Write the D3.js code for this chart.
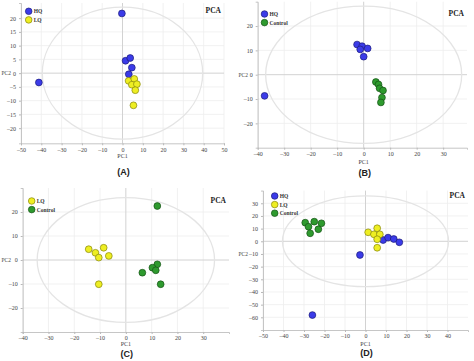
<!DOCTYPE html>
<html>
<head>
  <title>PCA score plots</title>
  <style>
    body { margin: 0; background: #fff; }
    svg { display: block; }
    .tick text { font-family: 'Liberation Serif', serif; font-size: 6px; fill: #444; }
  </style>
</head>
<body>
  <div id="chart-container"></div>
  <script src="https://d3js.org/d3.v7.min.js"></script>
  <script>
    // score values: [PC1, PC2]
    const scoresA_HQ = [[-0.3, 21.7], [1.5, 4.5], [3.8, 5.5], [4.6, 2.0], [3.1, -0.4], [-41.2, -3.4]];
    const scoresA_LQ = [[3.0, -2.8], [5.8, -2.1], [4.6, -4.2], [7.1, -4.0], [6.3, -6.2], [5.4, -11.7]];
    const scoresB_HQ = [[-2.5, 12.4], [-0.6, 11.7], [1.5, 10.8], [-1.3, 10.4], [0, 7.4], [-37.4, -8.7]];
    const scoresB_Control = [[4.6, -3.0], [5.6, -4.0], [6.0, -5.6], [7.3, -6.5], [6.9, -9.4], [6.5, -11.4]];
    const scoresC_LQ = [[-14.4, 4.5], [-11.8, 3.0], [-8.6, 5.1], [-10.5, 1.0], [-6.6, 1.7], [-10.5, -10.1]];
    const scoresC_Control = [[12.2, 22.5], [12.2, -1.8], [10.3, -3.2], [11.6, -4.3], [6.4, -5.3], [13.5, -10.1]];
    const scoresD_HQ = [[-2.7, -10.8], [-25.9, -58.2], [8.6, 1.0], [11, 2.9], [13.8, 1.8], [16.5, -0.8]];
    const scoresD_LQ = [[1.3, 7.1], [4.1, 5.5], [5.7, 10.3], [7, 5.5], [5.7, 1.6], [5.7, -5.1]];
    const scoresD_Control = [[-29.4, 14.7], [-27.8, 11.5], [-25, 15.5], [-21.5, 14.2], [-23, 9.5], [-27, 6.3]];

    const xTicksA = d3.range(-50, 51, 10);
    const yTicksA = d3.range(-20, 21, 5);
    const xTicksB = d3.range(-40, 31, 10);
    const yTicksB = d3.range(-20, 21, 10);
    const xTicksC = d3.range(-40, 31, 10);
    const yTicksC = d3.range(-20, 21, 10);
    const xTicksD = d3.range(-50, 41, 10);
    const yTicksD = d3.range(-60, 31, 10);

    // Hotelling ellipse half-axes (PC1, PC2)
    const ellipseA = [39.5, 24];
    const ellipseB = [37, 28.2];
    const ellipseC = [34.4, 26];
    const ellipseD = [40.5, 35.8];

    const groupColors = {
      HQ: { fill: '#3b3be8', stroke: '#1c1c7a' },
      LQ: { fill: '#eeee22', stroke: '#85850f' },
      Control: { fill: '#2e9a2e', stroke: '#155215' }
    };

    const panels = [
      { label: '(A)', ox: 0, oy: 0, xDom: [-50, 50], xR: [21, 224], yDom: [-25.5, 25.5], yR: [143.3, 3],
        xTicks: xTicksA, yTicks: yTicksA, ell: ellipseA, legend: [28.7, 11.3], pc2y: 73, pc1y: 158, capY: 175,
        series: [['HQ', scoresA_HQ], ['LQ', scoresA_LQ]] },
      { label: '(B)', ox: 237, oy: 0, xDom: [-40, 39], xR: [20.7, 230], yDom: [-30, 30], yR: [147.7, 1.7],
        xTicks: xTicksB, yTicks: yTicksB, ell: ellipseB, legend: [27.5, 14], pc2y: 75, pc1y: 164, capY: 176,
        series: [['HQ', scoresB_HQ], ['Control', scoresB_Control]] },
      { label: '(C)', ox: 0, oy: 180, xDom: [-40, 40], xR: [22.7, 229], yDom: [-30, 30], yR: [152, 8],
        xTicks: xTicksC, yTicks: yTicksC, ell: ellipseC, legend: [31.7, 21], pc2y: 80, pc1y: 166, capY: 177,
        series: [['LQ', scoresC_LQ], ['Control', scoresC_Control]] },
      { label: '(D)', ox: 237, oy: 180, xDom: [-50, 50], xR: [26, 231], yDom: [-70, 40], yR: [150, 10.6],
        xTicks: xTicksD, yTicks: yTicksD, ell: ellipseD, legend: [37.7, 16], pc2y: 74, pc1y: 165.5, capY: 176,
        series: [['HQ', scoresD_HQ], ['LQ', scoresD_LQ], ['Control', scoresD_Control]] }
    ];

    const fmt = d => (d < 0 ? '\u2013' + Math.abs(d) : String(d));

    const svg = d3.select('#chart-container')
      .append('svg')
      .attr('width', 474)
      .attr('height', 361);

    panels.forEach(p => {
      const g = svg.append('g').attr('transform', `translate(${p.ox},${p.oy})`);
      const x = d3.scaleLinear().domain(p.xDom).range(p.xR);
      const y = d3.scaleLinear().domain(p.yDom).range(p.yR);
      const left = p.xR[0], right = p.xR[1], top = p.yR[1], bottom = p.yR[0];

      // grid
      g.append('g').selectAll('line').data(p.xTicks.filter(t => t !== 0)).join('line')
        .attr('x1', d => x(d)).attr('x2', d => x(d)).attr('y1', top).attr('y2', bottom)
        .attr('stroke', '#ededed').attr('stroke-width', 0.8);
      g.append('g').selectAll('line').data(p.yTicks.filter(t => t !== 0)).join('line')
        .attr('y1', d => y(d)).attr('y2', d => y(d)).attr('x1', left).attr('x2', right)
        .attr('stroke', '#ededed').attr('stroke-width', 0.8);

      // zero lines
      g.append('line').attr('x1', x(0)).attr('x2', x(0)).attr('y1', top).attr('y2', bottom)
        .attr('stroke', '#d2d2d2').attr('stroke-width', 1);
      g.append('line').attr('y1', y(0)).attr('y2', y(0)).attr('x1', left).attr('x2', right)
        .attr('stroke', '#d2d2d2').attr('stroke-width', 1);

      // ellipse
      g.append('ellipse')
        .attr('cx', x(0)).attr('cy', y(0))
        .attr('rx', x(p.ell[0]) - x(0)).attr('ry', y(0) - y(p.ell[1]))
        .attr('fill', 'none').attr('stroke', '#e4e4e4').attr('stroke-width', 1.3);

      // axes
      const xAxis = g.append('g').attr('transform', `translate(0,${bottom})`)
        .call(d3.axisBottom(x).tickValues(p.xTicks).tickFormat(fmt).tickSize(2).tickPadding(2));
      const yAxis = g.append('g').attr('transform', `translate(${left},0)`)
        .call(d3.axisLeft(y).tickValues(p.yTicks).tickFormat(fmt).tickSize(2).tickPadding(3));
      [xAxis, yAxis].forEach(a => {
        a.select('.domain').attr('stroke', '#b8b8b8').attr('stroke-width', 0.8);
        a.selectAll('.tick line').attr('stroke', '#b8b8b8');
      });

      g.append('text').attr('x', x(0)).attr('y', p.pc1y).attr('text-anchor', 'middle')
        .attr('font-family', 'Liberation Serif, serif').attr('font-size', 6).attr('fill', '#444').text('PC1');
      g.append('text').attr('x', 1.5).attr('y', p.pc2y).attr('dy', '0.32em')
        .attr('font-family', 'Liberation Serif, serif').attr('font-size', 5.5).attr('fill', '#444').text('PC2');

      g.append('text').attr('x', right - 3).attr('y', p.legend[1] + 2)
        .attr('text-anchor', 'end').attr('font-family', 'Liberation Serif, serif')
        .attr('font-weight', 'bold').attr('font-size', 7.5).attr('fill', '#222').text('PCA');

      // points
      p.series.forEach(([name, pts]) => {
        g.append('g').selectAll('circle').data(pts).join('circle')
          .attr('cx', d => x(d[0])).attr('cy', d => y(d[1])).attr('r', 3.4)
          .attr('fill', groupColors[name].fill)
          .attr('stroke', groupColors[name].stroke).attr('stroke-width', 0.7);
      });

      // legend
      const leg = g.append('g').attr('transform', `translate(${p.legend[0]},${p.legend[1]})`);
      const items = leg.selectAll('g').data(p.series.map(s => s[0])).join('g')
        .attr('transform', (d, i) => `translate(0,${i * 8.6})`);
      items.append('circle').attr('r', 3.3)
        .attr('fill', d => groupColors[d].fill).attr('stroke', d => groupColors[d].stroke).attr('stroke-width', 0.7);
      items.append('text').attr('x', 5).attr('dy', '0.35em')
        .attr('font-family', 'Liberation Serif, serif').attr('font-weight', 'bold')
        .attr('font-size', 5.5).attr('fill', '#333').text(d => d);

      svg.append('text').attr('x', p.ox + x(0) + 1).attr('y', p.oy + p.capY)
        .attr('text-anchor', 'middle').attr('font-family', 'Liberation Sans, Arial, sans-serif')
        .attr('font-weight', 'bold').attr('font-size', 9).attr('fill', '#222').text(p.label);
    });
  </script>
</body>
</html>
